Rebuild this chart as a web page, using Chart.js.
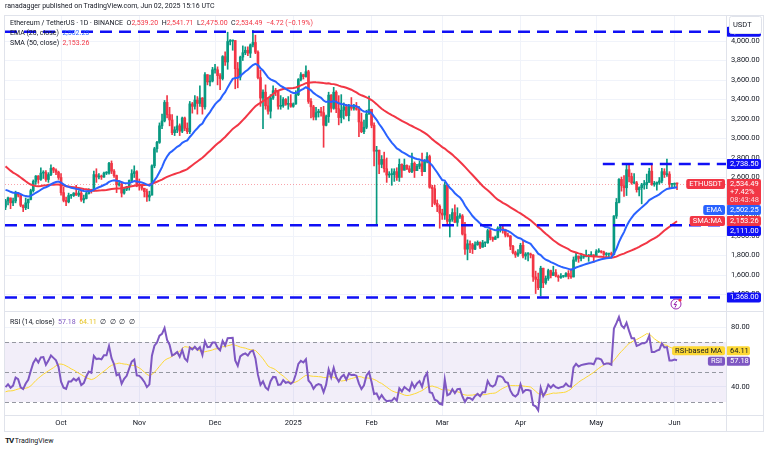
<!DOCTYPE html>
<html>
<head>
<meta charset="utf-8">
<script src="https://cdn.jsdelivr.net/npm/chart.js@4.4.1/dist/chart.umd.min.js"></script>
<style>
  body{margin:0;background:#fff;width:768px;height:451px;overflow:hidden;position:relative;font-family:Roboto,"Liberation Sans",sans-serif;color:#131722}
  .t{position:absolute;white-space:nowrap;font-size:7px;line-height:9px}
  .r{color:#F23645}
  .b{color:#2962FF}
  .ln{position:absolute;background:#e0e3eb}
  canvas{position:absolute;left:0}
  #price{top:15px}
  #rsi{top:311px}
</style>
</head>
<body>
<canvas id="price" width="768" height="296"></canvas>
<canvas id="rsi" width="768" height="120"></canvas>

<div class="ln" style="left:4px;top:15px;width:760px;height:1px"></div>
<div class="ln" style="left:4px;top:311px;width:760px;height:1px"></div>
<div class="ln" style="left:4px;top:415px;width:760px;height:1px"></div>
<div class="ln" style="left:4px;top:431px;width:760px;height:1px"></div>
<div class="ln" style="left:4px;top:15px;width:1px;height:416px"></div>
<div class="ln" style="left:726px;top:15px;width:1px;height:416px"></div>
<div class="ln" style="left:763px;top:15px;width:1px;height:416px"></div>

<div class="t" style="left:5px;top:2px;font-size:7px">ranadagger published on TradingView.com, Jun 02, 2025 15:16 UTC</div>
<div class="t" style="left:10px;top:19px">Ethereum / TetherUS · 1D · BINANCE&nbsp; O<span class="r">2,539.20</span>&nbsp; H<span class="r">2,541.71</span>&nbsp; L<span class="r">2,475.00</span>&nbsp; C<span class="r">2,534.49</span>&nbsp; <span class="r">−4.72 (−0.19%)</span></div>
<div class="t" style="left:10px;top:29px">EMA (20, close)&nbsp; <span class="b">2,502.25</span></div>
<div class="t" style="left:10px;top:39px">SMA (50, close)&nbsp; <span class="r">2,153.26</span></div>
<div class="t" style="left:10px;top:318px">RSI (14, close)&nbsp; <span style="color:#7E57C2">57.18</span>&nbsp; <span style="color:#e6c323">64.11</span>&nbsp; ∅&nbsp; ∅&nbsp; ∅&nbsp; ∅</div>
<div class="t" style="left:5px;top:436px"><b style="font-size:8px;letter-spacing:-1px">TV</b> TradingView</div>

<script>
// daily closes Jul 22 - Sep 8 2024 (only feed the indicators, not drawn)
const warmupCloses = [
  3440,3480,3335,3175,3275,3250,3270,3320,3280,3230,
  2980,2900,2690,2600,2420,2460,2340,2680,2600,2610,2555,2720,2700,2665,2570,2590,
  2615,2615,2640,2575,2630,2620,2765,2770,2745,2680,2460,2530,2530,2525,2515,
  2425,2535,2420,2450,2370,2225,2270,2295
];

// Sep 9 2024 -> Jun 2 2025, one per day
const closes = [
  2360,2390,2340,2360,2440,2420,2315,2290,2340,2375,2465,2560,2615,2580,2645,2650,2580,2630,2695,2675,2655,2600,
  2445,2365,2350,2415,2415,2440,2420,2440,2370,2385,2435,2475,2465,2630,2605,2610,2605,2645,2645,2745,2665,2620,2525,2535,2440,2480,2505,2570,2640,2660,2520,
  2515,2490,2455,2400,2420,2720,2895,2960,3130,3180,3370,3245,3190,3060,3090,3130,3075,3210,3105,3070,3355,3330,3395,3360,3415,3325,3655,3580,3590,3705,
  3705,3645,3615,3840,3785,3995,4000,4005,3715,3630,3835,3880,3905,3875,3960,3985,3885,3625,3415,3475,3335,3280,3415,3490,3485,3330,3335,3400,3350,3360,3330,
  3355,3450,3605,3655,3635,3685,3380,3325,3220,3265,3280,3265,3135,3225,3445,3310,3475,3305,3215,3290,3325,3235,3335,3310,3315,3300,3170,3070,3115,3250,3300,
  3135,2870,2880,2735,2785,2690,2625,2630,2630,2660,2600,2735,2675,2725,2690,2660,2745,2670,2715,2740,2660,2765,2815,2500,2485,2335,2305,2235,
  2215,2520,2150,2170,2240,2140,2200,2205,2020,1865,1920,1910,1865,1910,1935,1885,1930,1930,2055,1985,1965,1985,2080,2080,2065,2010,2000,1895,1830,1805,1825,
  1905,1795,1815,1815,1805,1580,1555,1470,1670,1520,1565,1645,1595,1625,1590,1575,1585,1590,1615,1585,1580,1755,1795,1770,1785,1790,1795,1800,1800,1795,
  1840,1840,1835,1810,1815,1815,1810,2205,2345,2580,2515,2495,2680,2610,2545,2545,2475,2495,2525,2525,2550,2665,2530,2530,2550,2565,2660,2630,2635,2530,2530,
  2539.2,2534.49
];
const highs = [
  2375,2400,2390,2390,2460,2445,2430,2320,2390,2380,2480,2575,2620,2620,2700,2670,2670,2650,2730,2705,2690,2665,
  2640,2500,2400,2440,2425,2445,2520,2465,2465,2420,2460,2485,2480,2665,2690,2640,2625,2655,2660,2755,2770,2680,2625,2560,2560,2490,2510,2575,2680,2720,2670,
  2585,2530,2490,2480,2460,2730,2910,2970,3160,3250,3390,3440,3320,3245,3120,3230,3150,3220,3220,3160,3380,3370,3440,3430,3540,3420,3675,3650,3650,3730,
  3760,3735,3665,3850,3890,4090,4015,4010,4000,3780,3845,3950,3940,3940,3970,4110,4060,3900,3700,3500,3550,3410,3450,3540,3515,3490,3440,3420,3410,3430,3450,
  3365,3490,3615,3675,3660,3745,3700,3410,3340,3320,3300,3320,3330,3240,3475,3450,3525,3490,3440,3450,3365,3350,3350,3420,3350,3370,3330,3260,3190,3290,3435,
  3300,3160,2920,2830,2825,2860,2800,2660,2690,2690,2700,2790,2740,2790,2730,2720,2850,2760,2735,2770,2850,2785,2855,2830,2520,2520,2370,2320,
  2275,2550,2525,2220,2280,2320,2290,2230,2220,2140,1960,1950,1925,1940,1950,1940,1955,1935,2070,2070,1990,2000,2095,2105,2100,2070,2030,2005,1905,1845,1860,
  1925,1955,1830,1830,1825,1810,1640,1620,1690,1670,1590,1660,1650,1690,1655,1600,1615,1595,1625,1645,1660,1785,1830,1795,1820,1800,1855,1810,1840,1810,
  1860,1870,1850,1845,1830,1820,1835,2210,2385,2590,2605,2620,2735,2725,2645,2640,2560,2505,2540,2570,2635,2695,2735,2560,2555,2600,2695,2690,2790,2660,2540,
  2545,2541.71
];
const lows = [
  2270,2320,2280,2310,2340,2400,2300,2250,2270,2280,2370,2450,2530,2540,2570,2590,2560,2550,2620,2650,2630,2580,
  2420,2350,2310,2340,2385,2405,2415,2405,2355,2340,2380,2430,2440,2460,2550,2585,2580,2600,2630,2635,2640,2600,2445,2510,2400,2430,2465,2470,2555,2600,2505,
  2470,2470,2400,2355,2360,2420,2700,2860,2950,3100,3170,3210,3130,3040,3030,3060,3030,3060,3080,3050,3050,3260,3300,3250,3330,3250,3300,3550,3540,3580,
  3670,3550,3500,3600,3750,3710,3960,3905,3510,3520,3600,3800,3860,3850,3830,3940,3870,3610,3330,3100,3300,3250,3210,3400,3440,3300,3300,3320,3340,3300,3320,
  3320,3350,3440,3590,3610,3630,3360,3210,3190,3190,3220,3230,2910,3130,3165,3270,3300,3265,3140,3160,3200,3230,3180,3290,3290,3290,3020,3060,3050,3100,3260,
  3110,2720,2125,2640,2700,2655,2550,2600,2520,2560,2570,2560,2600,2675,2680,2650,2650,2600,2670,2690,2620,2660,2750,2490,2300,2320,2250,2080,
  2170,2170,2110,1990,2150,2140,2100,2180,2010,1810,1755,1830,1820,1860,1905,1870,1885,1890,1925,1960,1945,1970,1980,2040,2030,1990,1990,1860,1815,1780,1790,
  1820,1775,1760,1745,1775,1535,1410,1450,1385,1470,1505,1545,1570,1595,1580,1535,1565,1575,1580,1560,1565,1580,1740,1730,1745,1770,1785,1740,1790,1730,
  1790,1830,1825,1800,1790,1780,1790,1805,2180,2340,2460,2405,2415,2555,2530,2535,2450,2410,2330,2480,2485,2550,2520,2510,2470,2530,2545,2600,2610,2495,2490,
  2495,2475
];

const monthTicks = [22, 53, 83, 114, 145, 173, 204, 234, 265];
const monthLabels = ['Oct', 'Nov', 'Dec', '2025', 'Feb', 'Mar', 'Apr', 'May', 'Jun'];
const priceTicks = [1400, 1600, 1800, 2000, 2200, 2400, 2600, 2800, 3000, 3200, 3400, 3600, 3800, 4000];
const rsiTicks = [40, 80];
const levels = [4094, 2738.5, 2111, 1368];
const levelFrom = [-0.2, 236.6, -0.2, -0.2];
const lastPrice = 2534.49;
const lastInfo = ['2,534.49', '+7.42%', '08:43:48'];
const emaLast = 2502.25;
const smaLast = 2153.26;
const rsiLast = 57.18;
const rsiMaLast = 64.11;

const xMin = -0.2, xMax = 285.4;
const UP = '#089981', DOWN = '#F23645', LEVEL = '#1010f5', GRID = '#f0f3fa';

Chart.defaults.font.family = 'Roboto, "Liberation Sans", sans-serif';

function fmt(v){
  const s = Math.abs(v).toFixed(2).split('.');
  return s[0].replace(/\B(?=(\d{3})+(?!\d))/g, ',') + '.' + s[1];
}

function calcSma(src, n){
  const out = [];
  for(let i = 0; i < src.length; i++){
    if(i < n - 1){ out.push(null); continue; }
    const win = src.slice(i - n + 1, i + 1);
    if(win.some(v => v === null)){ out.push(null); continue; }
    out.push(win.reduce((a, b) => a + b, 0) / n);
  }
  return out;
}

function calcEma(src, n){
  const k = 2 / (n + 1);
  const out = [];
  let e = null;
  for(let i = 0; i < src.length; i++){
    if(i < n - 1){ out.push(null); continue; }
    if(e === null) e = src.slice(0, n).reduce((a, b) => a + b, 0) / n;
    else e = src[i] * k + e * (1 - k);
    out.push(e);
  }
  return out;
}

function calcRsi(src, n){
  const out = [null];
  let g = 0, l = 0;
  for(let i = 1; i < src.length; i++){
    const ch = src[i] - src[i - 1];
    const up = Math.max(ch, 0), dn = Math.max(-ch, 0);
    if(i <= n){
      g += up; l += dn;
      if(i < n){ out.push(null); continue; }
      g /= n; l /= n;
    } else {
      g = (g * (n - 1) + up) / n;
      l = (l * (n - 1) + dn) / n;
    }
    out.push(l === 0 ? 100 : 100 - 100 / (1 + g / l));
  }
  return out;
}

const all = warmupCloses.concat(closes);
const W = warmupCloses.length;
const ema20 = calcEma(all, 20).slice(W);
const sma50 = calcSma(all, 50).slice(W);
const rsiAll = calcRsi(all, 14);
const rsi14 = rsiAll.slice(W);
const rsiMa = calcSma(rsiAll, 14).slice(W);

const opens = closes.map((c, i) => i === 0 ? warmupCloses[W - 1] : closes[i - 1]);
const colors = closes.map((c, i) => c >= opens[i] ? UP : DOWN);

function rbox(ctx, x, y, w, h, fill){
  ctx.fillStyle = fill;
  ctx.beginPath();
  ctx.roundRect(x, y, w, h, 2);
  ctx.fill();
}

// no automatic label padding: the panes must fill their canvases exactly
function noPad(s){
  s.paddingTop = 0; s.paddingBottom = 0; s.paddingLeft = 0; s.paddingRight = 0;
}

const priceDecor = {
  id: 'priceDecor',
  beforeDatasetsDraw(chart){
    const { ctx, chartArea: a, scales: { y } } = chart;
    const py = y.getPixelForValue(lastPrice);
    ctx.save();
    ctx.strokeStyle = 'rgba(242,54,69,0.45)';
    ctx.lineWidth = 1;
    ctx.setLineDash([1, 2]);
    ctx.beginPath();
    ctx.moveTo(a.left, Math.round(py) + 0.5);
    ctx.lineTo(a.right, Math.round(py) + 0.5);
    ctx.stroke();
    ctx.restore();
  },
  afterDraw(chart){
    const { ctx, chartArea: a, scales: { y } } = chart;
    const ax = a.right;
    const items = [
      { v: levels[0], bg: LEVEL, lines: [fmt(levels[0])] },
      { v: levels[1], bg: LEVEL, lines: [fmt(levels[1])] },
      { v: lastPrice, bg: DOWN, lines: lastInfo, tag: 'ETHUSDT' },
      { v: emaLast, bg: '#2962FF', lines: [fmt(emaLast)], tag: 'EMA' },
      { v: smaLast, bg: DOWN, lines: [fmt(smaLast)], tag: 'SMA:MA' },
      { v: levels[2], bg: LEVEL, lines: [fmt(levels[2])] },
      { v: levels[3], bg: LEVEL, lines: [fmt(levels[3])] }
    ].map(it => ({ ...it, top: y.getPixelForValue(it.v) - 5, h: it.lines.length > 1 ? 26 : 10 }));
    items.sort((p, q) => p.top - q.top);
    for(let i = 1; i < items.length; i++){
      const prev = items[i - 1];
      if(items[i].top < prev.top + prev.h) items[i].top = prev.top + prev.h;
    }
    ctx.save();
    ctx.font = '7.5px Roboto, "Liberation Sans", sans-serif';
    ctx.textBaseline = 'middle';
    items.forEach(it => {
      rbox(ctx, ax, it.top, 35, it.h, it.bg);
      ctx.fillStyle = '#fff';
      ctx.textAlign = 'left';
      it.lines.forEach((s, k) => {
        ctx.globalAlpha = k === 2 ? 0.8 : 1;
        ctx.fillText(s, ax + 4, it.top + 5 + k * 8);
      });
      ctx.globalAlpha = 1;
      if(it.tag){
        const w = ctx.measureText(it.tag).width + 6;
        rbox(ctx, ax - w - 1, it.top, w, 10, it.bg);
        ctx.fillStyle = '#fff';
        ctx.fillText(it.tag, ax - w + 2, it.top + 5);
      }
    });
    // unit box
    ctx.fillStyle = '#fff';
    ctx.strokeStyle = '#e0e3eb';
    ctx.lineWidth = 1;
    ctx.beginPath();
    ctx.roundRect(ax + 3.5, 1.5, 32, 17, 2);
    ctx.fill();
    ctx.stroke();
    ctx.fillStyle = '#131722';
    ctx.fillText('USDT', ax + 7, 10);
    // alert icon
    const cx = 676, cy = 289;
    ctx.strokeStyle = '#9c27b0';
    ctx.beginPath();
    ctx.arc(cx, cy, 5, 0, Math.PI * 2);
    ctx.stroke();
    ctx.beginPath();
    ctx.moveTo(cx + 1, cy - 3); ctx.lineTo(cx - 2, cy + 0.5); ctx.lineTo(cx + 0.5, cy + 0.5); ctx.lineTo(cx - 1, cy + 3.5);
    ctx.stroke();
    ctx.fillStyle = '#F23645';
    ctx.beginPath();
    ctx.arc(cx + 4, cy - 4, 1.6, 0, Math.PI * 2);
    ctx.fill();
    ctx.restore();
  }
};

const rsiDecor = {
  id: 'rsiDecor',
  beforeDatasetsDraw(chart){
    const { ctx, chartArea: a, scales: { y } } = chart;
    const y70 = y.getPixelForValue(70), y30 = y.getPixelForValue(30);
    ctx.save();
    ctx.fillStyle = 'rgba(126,87,194,0.1)';
    ctx.fillRect(a.left, y70, a.right - a.left, y30 - y70);
    ctx.strokeStyle = '#9598a1';
    ctx.lineWidth = 1;
    ctx.setLineDash([4, 3]);
    [70, 50, 30].forEach(v => {
      const p = Math.round(y.getPixelForValue(v)) + 0.5;
      ctx.beginPath();
      ctx.moveTo(a.left, p);
      ctx.lineTo(a.right, p);
      ctx.stroke();
    });
    ctx.restore();
  },
  afterDraw(chart){
    const { ctx, chartArea: a, scales: { y } } = chart;
    const ax = a.right;
    ctx.save();
    ctx.font = '7.5px Roboto, "Liberation Sans", sans-serif';
    ctx.textBaseline = 'middle';
    const items = [
      { v: rsiMaLast, bg: '#FDD835', fg: '#131722', tag: 'RSI-based MA' },
      { v: rsiLast, bg: '#7E57C2', fg: '#fff', tag: 'RSI' }
    ];
    let lastBottom = -99;
    items.forEach(it => {
      let top = y.getPixelForValue(it.v) - 4.5;
      if(top < lastBottom) top = lastBottom;
      lastBottom = top + 9;
      rbox(ctx, ax, top, 24, 9, it.bg);
      ctx.fillStyle = it.fg;
      ctx.fillText(it.v.toFixed(2), ax + 4, top + 4.5);
      const w = ctx.measureText(it.tag).width + 6;
      rbox(ctx, ax - w - 1, top, w, 9, it.bg);
      ctx.fillStyle = it.fg;
      ctx.fillText(it.tag, ax - w + 2, top + 4.5);
    });
    ctx.restore();
  }
};

const idx = closes.map((c, i) => i);

new Chart(document.getElementById('price'), {
  type: 'bar',
  data: {
    datasets: [
      ...levels.map((v, k) => ({
        type: 'line', data: [{ x: levelFrom[k], y: v }, { x: xMax, y: v }],
        borderColor: LEVEL, borderWidth: 2.5, borderDash: [12, 7], pointRadius: 0, order: -1
      })),
      { type: 'line', data: idx.map(i => ({ x: i, y: ema20[i] })), borderColor: '#2962FF', borderWidth: 2, pointRadius: 0, order: 0 },
      { type: 'line', data: idx.map(i => ({ x: i, y: sma50[i] })), borderColor: '#F23645', borderWidth: 2, pointRadius: 0, order: 1 },
      { data: idx.map(i => ({ x: i, y: [opens[i], closes[i]] })), backgroundColor: colors, barThickness: 2, minBarLength: 1, grouped: false, order: 2 },
      { data: idx.map(i => ({ x: i, y: [Math.min(lows[i], opens[i], closes[i]), Math.max(highs[i], opens[i], closes[i])] })), backgroundColor: colors, barThickness: 1, grouped: false, order: 3 }
    ]
  },
  options: {
    responsive: false, animation: false, events: [],
    layout: { padding: { left: 5, right: 0, top: 0, bottom: 0 } },
    plugins: { legend: { display: false }, tooltip: { enabled: false } },
    scales: {
      x: {
        type: 'linear', min: xMin, max: xMax, offset: false,
        grid: { color: GRID, drawTicks: false, offset: false }, border: { display: false },
        ticks: { display: false },
        afterBuildTicks: s => { s.ticks = monthTicks.map(v => ({ value: v })); },
        afterFit: s => { s.height = 0; noPad(s); }
      },
      y: {
        position: 'right', min: 1230.8, max: 4266.7,
        grid: { color: GRID, drawTicks: false }, border: { display: false },
        ticks: { padding: 5, color: '#131722', font: { size: 7.5 }, callback: v => fmt(v) },
        afterBuildTicks: s => { s.ticks = priceTicks.map(v => ({ value: v })); },
        afterFit: s => { s.width = 42; noPad(s); }
      }
    }
  },
  plugins: [priceDecor]
});

new Chart(document.getElementById('rsi'), {
  type: 'line',
  data: {
    datasets: [
      { data: idx.map(i => ({ x: i, y: rsi14[i] })), borderColor: '#7E57C2', borderWidth: 2, pointRadius: 0, order: 0 },
      { data: idx.map(i => ({ x: i, y: rsiMa[i] })), borderColor: '#FDD835', borderWidth: 1, pointRadius: 0, order: 1 }
    ]
  },
  options: {
    responsive: false, animation: false, events: [],
    layout: { padding: { left: 5, right: 0, top: 0, bottom: 0 } },
    plugins: { legend: { display: false }, tooltip: { enabled: false } },
    scales: {
      x: {
        type: 'linear', min: xMin, max: xMax, offset: false,
        grid: { color: GRID, drawTicks: false }, border: { display: false },
        ticks: { padding: 4, color: '#131722', font: { size: 7.5 }, maxRotation: 0, autoSkip: false, callback: (v, i) => monthLabels[i] },
        afterBuildTicks: s => { s.ticks = monthTicks.map(v => ({ value: v })); },
        afterFit: s => { s.height = 16; noPad(s); }
      },
      y: {
        position: 'right', min: 21.33, max: 90.67,
        grid: { color: GRID, drawTicks: false }, border: { display: false },
        ticks: { padding: 5, color: '#131722', font: { size: 7.5 }, callback: v => v.toFixed(2) },
        afterBuildTicks: s => { s.ticks = rsiTicks.map(v => ({ value: v })); },
        afterFit: s => { s.width = 42; noPad(s); }
      }
    }
  },
  plugins: [rsiDecor]
});
</script>
</body>
</html>
